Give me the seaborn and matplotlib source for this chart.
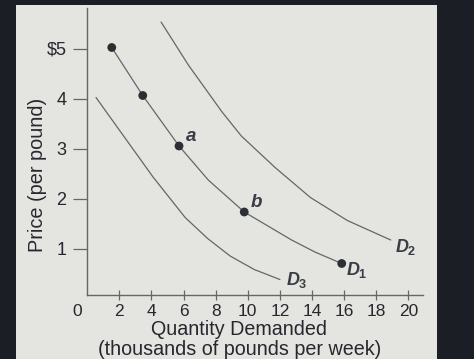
import matplotlib
matplotlib.use("Agg")
import matplotlib.pyplot as plt
from matplotlib.patches import Rectangle
import pandas as pd
import seaborn as sns

# ---- data ----
d1_q = [1.53, 3.46, 5.72, 7.54, 9.78, 12.73, 14.18, 15.85]
d1_p = [5.02, 4.06, 3.05, 2.37, 1.73, 1.17, 0.93, 0.70]
d2_q = [4.6, 6.3, 8.4, 9.6, 11.7, 13.9, 16.2, 18.9]
d2_p = [5.53, 4.67, 3.73, 3.25, 2.62, 2.02, 1.56, 1.17]
d3_q = [0.55, 2.0, 4.1, 6.1, 7.5, 8.9, 10.4, 12.0]
d3_p = [4.02, 3.37, 2.43, 1.62, 1.20, 0.85, 0.58, 0.38]
pts_q = [1.53, 3.46, 5.72, 9.78, 15.85]
pts_p = [5.02, 4.06, 3.05, 1.73, 0.70]
pt_labels = ["", "", "a", "b", ""]
x_ticks = [2, 4, 6, 8, 10, 12, 14, 16, 18, 20]
x_ticklabels = ["2", "4", "6", "8", "10", "12", "14", "16", "18", "20"]
y_ticks = [1, 2, 3, 4, 5]
y_ticklabels = ["1", "2", "3", "4", "$5"]
curve_names = [r"$\mathit{D_1}$", r"$\mathit{D_2}$", r"$\mathit{D_3}$"]

sns.set_style("white")
plt.rcParams["font.family"] = ["Liberation Sans", "DejaVu Sans"]
plt.rcParams["mathtext.fontset"] = "custom"
plt.rcParams["mathtext.it"] = "Liberation Sans:italic:bold"
plt.rcParams["mathtext.rm"] = "Liberation Sans:bold"

W, H = 474, 359
fig = plt.figure(figsize=(W / 100, H / 100), dpi=100, facecolor="#1b1e25")
fig.patches.append(Rectangle((16 / W, 0), (437 - 16) / W, (H - 5) / H,
                             transform=fig.transFigure, facecolor="#e4e4e1",
                             edgecolor="none", zorder=-10))

ax = fig.add_axes([86.7 / W, 64 / H, 336.6 / W, 287 / H])
ax.set_facecolor("none")
ax.set_zorder(2)

line_color = "#666666"
curves = pd.concat([
    pd.DataFrame({"q": d1_q, "p": d1_p, "curve": "D1"}),
    pd.DataFrame({"q": d2_q, "p": d2_p, "curve": "D2"}),
    pd.DataFrame({"q": d3_q, "p": d3_p, "curve": "D3"}),
])
sns.lineplot(data=curves, x="q", y="p", units="curve", estimator=None,
             color=line_color, linewidth=0.9, ax=ax, legend=False)
pts = pd.DataFrame({"q": pts_q, "p": pts_p})
sns.scatterplot(data=pts, x="q", y="p", color="#2b2e35", s=40,
                edgecolor="none", ax=ax, zorder=5, legend=False)

txt_color = "#26282d"
for q, p, lab in zip(pts_q, pts_p, pt_labels):
    if lab:
        ax.annotate(lab, xy=(q, p), xytext=(8.5, 6.5), textcoords="offset points",
                    ha="center", va="center", fontsize=13.5, fontweight="bold",
                    style="italic", color="#3a3d44")

ends = [(d1_q[-1], d1_p[-1], (11.0, -4.5)),
        (d2_q[-1], d2_p[-1], (10.5, -5.0)),
        (d3_q[-1], d3_p[-1], (12.0, 0.0))]
for (q, p, off), name in zip(ends, curve_names):
    ax.annotate(name, xy=(q, p), xytext=off, textcoords="offset points",
                ha="center", va="center", fontsize=13, color="#3a3d44")

ax.set_xlim(-0.03, 20.93)
ax.set_ylim(0.07, 5.81)
ax.set_xticks(x_ticks)
ax.set_xticklabels(x_ticklabels)
ax.set_yticks(y_ticks)
ax.set_yticklabels(y_ticklabels)
ax.set_xlabel("")
ax.set_ylabel("")
for s in ["top", "right"]:
    ax.spines[s].set_visible(False)
for s in ["left", "bottom"]:
    ax.spines[s].set_color(line_color)
    ax.spines[s].set_linewidth(1.0)
ax.tick_params(axis="x", bottom=True, direction="inout", length=7.5, width=0.9,
               color=line_color, pad=2.5, labelsize=12.5, labelcolor=txt_color)
ax.tick_params(axis="y", left=True, direction="out", length=10, width=0.9,
               color=line_color, pad=4.5, labelsize=13, labelcolor=txt_color)

fig.text(76.7 / W, 1 - 312 / H, "0", ha="center", va="center",
         fontsize=12.5, color=txt_color)
fig.text(239 / W, 1 - 335 / H, "Quantity Demanded", ha="center",
         va="baseline", fontsize=14.2, color=txt_color)
fig.text(239.5 / W, 1 - 355 / H, "(thousands of pounds per week)", ha="center",
         va="baseline", fontsize=14.2, color=txt_color)
fig.text(38 / W, 1 - 174.5 / H, "Price (per pound)", rotation=90, ha="center",
         va="center", fontsize=14.3, color=txt_color)

fig.savefig("out.png", dpi=100, facecolor=fig.get_facecolor())
